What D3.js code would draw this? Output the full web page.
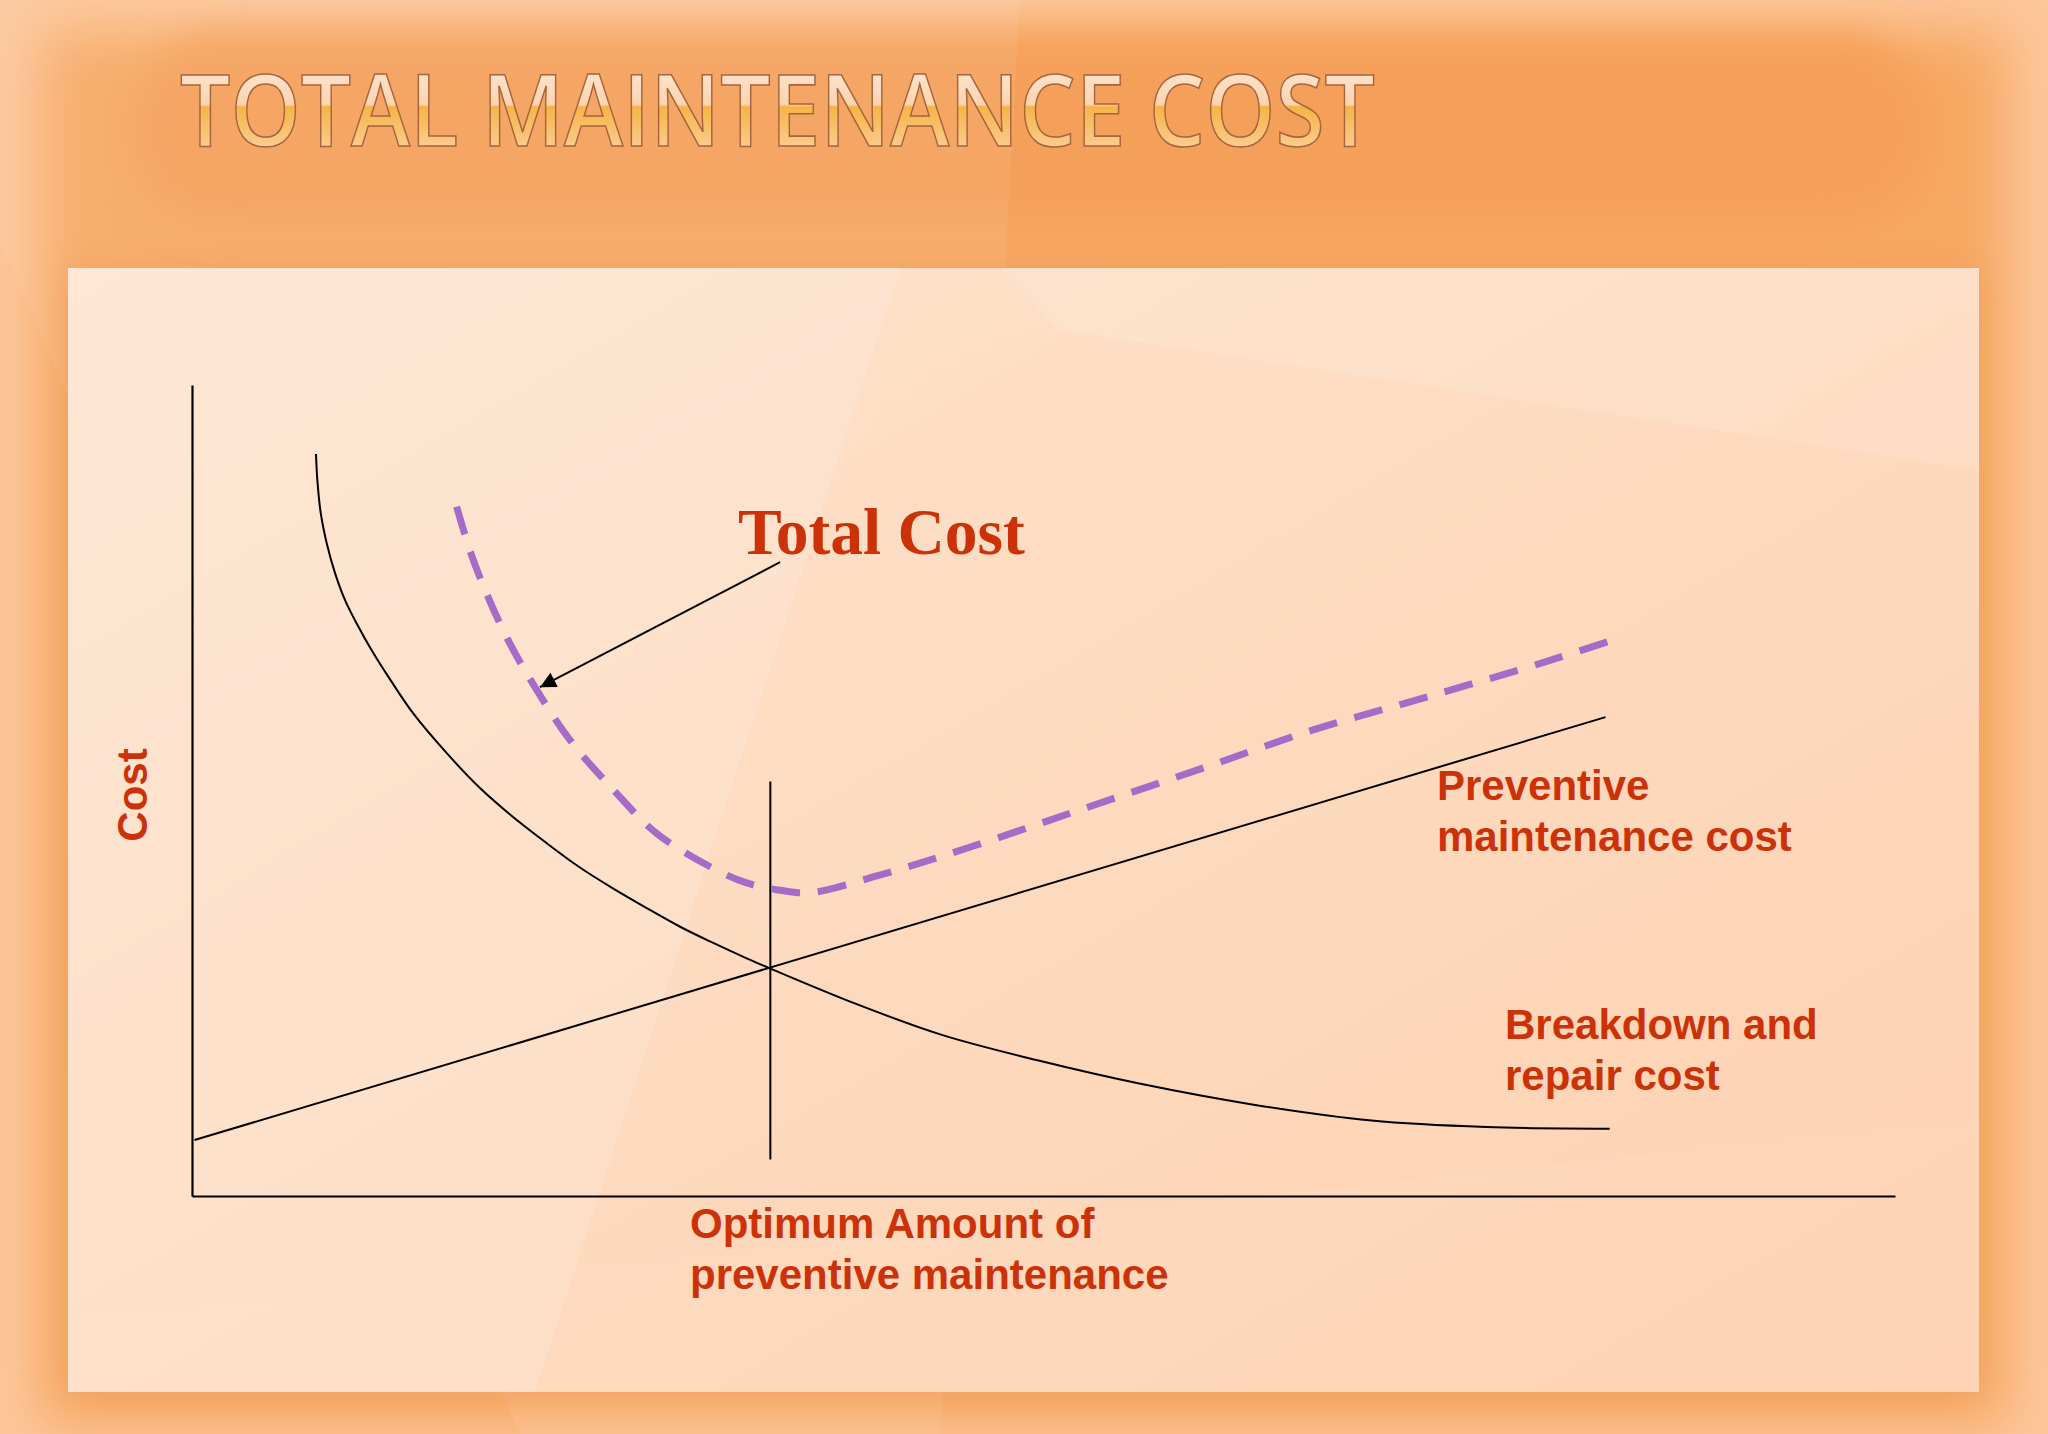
<!DOCTYPE html>
<html>
<head>
<meta charset="utf-8">
<script src="https://cdn.jsdelivr.net/npm/d3@7"></script>
<style>
  html, body { margin: 0; padding: 0; background: #f7a866; }
  svg { display: block; }
</style>
</head>
<body>
<div id="chart"></div>
<script>
"use strict";

// curves, x = amount of preventive maintenance, y = cost (0..100)
var preventiveCost = [[0.15, 6.9], [83, 59.05]];

var breakdownCost = [
  [7.28, 91.5], [7.36, 88.3], [7.56, 84.2], [7.91, 80.5], [8.40, 76.8],
  [8.98, 73.5], [9.67, 70.6], [10.55, 67.3], [11.63, 63.7], [12.99, 59.5],
  [14.96, 54.6], [16.91, 50.3], [18.87, 46.7], [20.83, 43.5], [22.78, 40.5],
  [24.74, 37.9], [26.70, 35.5], [28.66, 33.2], [30.61, 31.2], [32.57, 29.3],
  [33.90, 28.1], [38.92, 23.75], [43.98, 19.9], [49.71, 16.7], [55.77, 13.8],
  [62.51, 11.2], [69.26, 9.3], [76.0, 8.5], [83.25, 8.3]
];

var totalCost = [
  [15.54, 85.0], [16.42, 79.0], [17.50, 73.3], [18.77, 67.7], [20.24, 62.4],
  [22.20, 56.2], [24.74, 50.1], [27.29, 44.7], [30.61, 40.4], [32.57, 38.6],
  [34.53, 37.7], [36.31, 37.4], [40.27, 39.5], [45.66, 43.0], [52.4, 47.8],
  [59.14, 52.6], [65.88, 57.5], [72.63, 61.6], [79.37, 65.8], [84.09, 69.0]
];

var optimum = {x: 33.96, from: 4.5, to: 51.1};
var arrowFrom = [34.53, 78.15], arrowTo = [20.43, 62.74];

var titleText = "TOTAL MAINTENANCE COST";
var totalLabel = "Total Cost";
var preventiveLabel = ["Preventive", "maintenance cost"];
var breakdownLabel = ["Breakdown and", "repair cost"];
var optimumLabel = ["Optimum Amount of", "preventive maintenance"];
var yLabel = "Cost";

var W = 2048, H = 1434;
var red = "#cc3209";

var svg = d3.select("#chart").append("svg")
    .attr("width", W)
    .attr("height", H);

var defs = svg.append("defs");

defs.append("filter").attr("id", "blurBig")
    .attr("x", "-20%").attr("y", "-20%").attr("width", "140%").attr("height", "140%")
  .append("feGaussianBlur").attr("stdDeviation", 28);

defs.append("filter").attr("id", "blurMid")
    .attr("x", "-20%").attr("y", "-50%").attr("width", "140%").attr("height", "200%")
  .append("feGaussianBlur").attr("stdDeviation", 18);

var tg = defs.append("linearGradient").attr("id", "titleFill")
    .attr("x1", 0).attr("y1", 0).attr("x2", 0).attr("y2", 1);
tg.append("stop").attr("offset", "0%").attr("stop-color", "#fff2e4");
tg.append("stop").attr("offset", "48%").attr("stop-color", "#fcd4b0");
tg.append("stop").attr("offset", "50%").attr("stop-color", "#f6b446");
tg.append("stop").attr("offset", "75%").attr("stop-color", "#fac884");
tg.append("stop").attr("offset", "100%").attr("stop-color", "#fde4c6");

var pg = defs.append("linearGradient").attr("id", "panelFill")
    .attr("x1", 0).attr("y1", 0).attr("x2", 1).attr("y2", 1);
pg.append("stop").attr("offset", "0%").attr("stop-color", "#fde4ce");
pg.append("stop").attr("offset", "100%").attr("stop-color", "#fdd1b0");

// background: light edges, orange body, darker banner behind the title
svg.append("rect").attr("width", W).attr("height", H).attr("fill", "#fcc79c");
svg.append("rect")
    .attr("x", 40).attr("y", 30).attr("width", W - 80).attr("height", H - 40)
    .attr("fill", "#f7a862")
    .attr("filter", "url(#blurBig)");
svg.append("rect")
    .attr("x", 130).attr("y", 35).attr("width", 1800).attr("height", 190)
    .attr("rx", 90)
    .attr("fill", "#f5a05a")
    .attr("filter", "url(#blurMid)");
svg.append("polygon")
    .attr("points", "0,0 1020,0 940,1434 520,1434 0,240")
    .attr("fill", "#fff").attr("opacity", 0.07);

// content panel
svg.append("rect")
    .attr("x", 64).attr("y", 266).attr("width", 1919).attr("height", 1132)
    .attr("fill", "#e8904c").attr("opacity", 0.35)
    .attr("filter", "url(#blurMid)");
svg.append("rect")
    .attr("x", 68).attr("y", 268).attr("width", 1911).attr("height", 1124)
    .attr("fill", "url(#panelFill)");
svg.append("polygon")
    .attr("points", "68,268 900,268 535,1392 68,1392")
    .attr("fill", "#fff").attr("opacity", 0.14);
svg.append("polygon")
    .attr("points", "1000,268 1979,268 1979,470 1060,330")
    .attr("fill", "#fff").attr("opacity", 0.12);
svg.append("polygon")
    .attr("points", "68,1392 68,1320 1979,1120 1979,1392")
    .attr("fill", "#fff").attr("opacity", 0.05);

// title
svg.append("text")
    .attr("x", 180).attr("y", 146)
    .attr("textLength", 1195)
    .attr("lengthAdjust", "spacingAndGlyphs")
    .style("font-family", "'Open Sans', 'DejaVu Sans', sans-serif")
    .style("font-size", "100px")
    .style("font-weight", 600)
    .attr("fill", "url(#titleFill)")
    .attr("stroke", "#a8643e")
    .attr("stroke-width", 1.6)
    .text(titleText);

// scales
var x = d3.scaleLinear().domain([0, 100]).range([192, 1895]);
var y = d3.scaleLinear().domain([0, 100]).range([1196, 385]);

var line = d3.line()
    .x(function(d) { return x(d[0]); })
    .y(function(d) { return y(d[1]); });

var g = svg.append("g");

// axes, no ticks
g.append("g")
    .attr("transform", "translate(0," + y(0) + ")")
    .call(d3.axisBottom(x).ticks(0).tickSizeOuter(0))
    .call(function(a) { a.select(".domain").attr("stroke", "#000").attr("stroke-width", 2.2); });
g.append("g")
    .attr("transform", "translate(" + x(0) + ",0)")
    .call(d3.axisLeft(y).ticks(0).tickSizeOuter(0))
    .call(function(a) { a.select(".domain").attr("stroke", "#000").attr("stroke-width", 2.2); });

// preventive maintenance cost
g.append("path")
    .datum(preventiveCost)
    .attr("d", line)
    .attr("fill", "none").attr("stroke", "#000").attr("stroke-width", 2);

// breakdown and repair cost
g.append("path")
    .datum(breakdownCost)
    .attr("d", line.curve(d3.curveCatmullRom.alpha(0.5)))
    .attr("fill", "none").attr("stroke", "#000").attr("stroke-width", 2);

// optimum line
g.append("line")
    .attr("x1", x(optimum.x)).attr("x2", x(optimum.x))
    .attr("y1", y(optimum.from)).attr("y2", y(optimum.to))
    .attr("stroke", "#000").attr("stroke-width", 2);

// total cost, dashed
g.append("path")
    .datum(totalCost)
    .attr("d", line.curve(d3.curveCatmullRom.alpha(0.5)))
    .attr("fill", "none")
    .attr("stroke", "#a66bc6")
    .attr("stroke-width", 7)
    .attr("stroke-dasharray", "29,18");

// arrow to the total cost curve
defs.append("marker").attr("id", "arrowHead")
    .attr("viewBox", "0 0 10 10")
    .attr("refX", 10).attr("refY", 5)
    .attr("markerWidth", 20).attr("markerHeight", 16)
    .attr("markerUnits", "userSpaceOnUse")
    .attr("orient", "auto")
  .append("path").attr("d", "M0,0 L10,5 L0,10 Z").attr("fill", "#000");

g.append("line")
    .attr("x1", x(arrowFrom[0])).attr("y1", y(arrowFrom[1]))
    .attr("x2", x(arrowTo[0])).attr("y2", y(arrowTo[1]))
    .attr("stroke", "#000").attr("stroke-width", 2)
    .attr("marker-end", "url(#arrowHead)");

// labels
g.append("text")
    .attr("x", 738).attr("y", 554)
    .style("font-family", "'Liberation Serif', 'Times New Roman', serif")
    .style("font-weight", "bold")
    .style("font-size", "65.5px")
    .attr("fill", red)
    .text(totalLabel);

function multiLine(lines, px, py) {
  var t = g.append("text")
      .style("font-family", "'Liberation Sans', Arial, sans-serif")
      .style("font-weight", "bold")
      .style("font-size", "42px")
      .attr("fill", red);
  t.selectAll("tspan").data(lines).enter().append("tspan")
      .attr("x", px)
      .attr("y", function(d, i) { return py + i * 51; })
      .text(function(d) { return d; });
}

multiLine(preventiveLabel, 1437, 800);
multiLine(breakdownLabel, 1505, 1039);
multiLine(optimumLabel, 690, 1238);

g.append("text")
    .attr("transform", "translate(147,795) rotate(-90)")
    .attr("text-anchor", "middle")
    .style("font-family", "'Liberation Sans', Arial, sans-serif")
    .style("font-weight", "bold")
    .style("font-size", "42px")
    .attr("fill", red)
    .text(yLabel);
</script>
</body>
</html>
